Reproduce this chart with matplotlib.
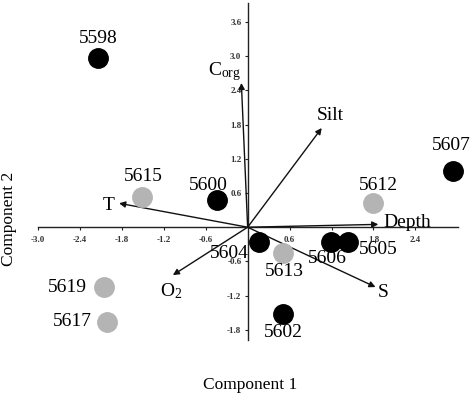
import matplotlib
matplotlib.use("Agg")
import matplotlib.pyplot as plt

plt.rcParams['font.family'] = ['Liberation Serif', 'DejaVu Serif']
plt.rcParams['mathtext.fontset'] = 'custom'
plt.rcParams['mathtext.rm'] = 'Liberation Serif'
plt.rcParams['mathtext.it'] = 'Liberation Serif:italic'

# sample scores (component 1, component 2)
stations = ['5598', '5607', '5615', '5600', '5612', '5604',
            '5613', '5606', '5605', '5602', '5619', '5617']
comp1 = [-2.14, 2.94, -1.51, -0.44, 1.80, 0.16, 0.50, 1.19, 1.43, 0.50, -2.06, -2.01]
comp2 = [2.96, 0.98, 0.53, 0.47, 0.42, -0.26, -0.46, -0.26, -0.26, -1.53, -1.05, -1.67]
groups = ['b', 'b', 'g', 'b', 'g', 'b', 'g', 'b', 'b', 'b', 'g', 'g']

# variable loadings
variables = [r'$\mathrm{C_{org}}$', 'Silt', 'Depth', 'S', 'T', r'$\mathrm{O_2}$']
load1 = [-0.09, 1.06, 1.87, 1.83, -1.84, -1.07]
load2 = [2.53, 1.74, 0.05, -1.05, 0.42, -0.84]

xticks = [-3.0, -2.4, -1.8, -1.2, -0.6, 0.6, 1.2, 1.8, 2.4]
yticks = [-1.8, -1.2, -0.6, 0.6, 1.2, 1.8, 2.4, 3.0, 3.6]

# label offsets in pixels
station_off = [(0, 20), (-2, 26), (1, 20), (-9, 15), (5, 18), (-30, -11),
               (2, -18), (-3, -16), (31, -7), (1, -18), (-36, 0), (-35, 1)]
var_off = [(-17, 11), (9, 13), (5, 2), (8, -5), (-10, -2), (-2, -16)]
var_ha = ['center', 'center', 'left', 'center', 'center', 'center']

colors = {'b': 'black', 'g': '#b4b4b4'}

fig = plt.figure(figsize=(4.74, 3.95), dpi=100)
ax = fig.add_axes([0.0802, 0.139, 0.886, 0.853])
ax.set_xlim(-2.99, 3.01)
ax.set_ylim(-1.98, 3.93)

for s in ['top', 'right']:
    ax.spines[s].set_visible(False)
ax.spines['left'].set_position('zero')
ax.spines['bottom'].set_position('zero')
for s in ['left', 'bottom']:
    ax.spines[s].set_linewidth(1.0)
    ax.spines[s].set_color('#222222')

ax.set_xticks(xticks)
ax.set_yticks(yticks)
ax.set_xticklabels(['%.1f' % v for v in xticks])
ax.set_yticklabels(['%.1f' % v for v in yticks])
ax.tick_params(axis='both', length=2.5, width=0.8, labelsize=6.5, color='#222222')
ax.tick_params(axis='x', pad=3.5)
ax.tick_params(axis='y', pad=2)
for lab in ax.get_xticklabels() + ax.get_yticklabels():
    lab.set_fontweight('bold')
    lab.set_color('#333333')

# loading arrows
for name, x, y, off, ha in zip(variables, load1, load2, var_off, var_ha):
    ax.annotate('', xy=(x, y), xytext=(0, 0),
                arrowprops=dict(arrowstyle='-|>', color='#111111', lw=1.0,
                                mutation_scale=9, shrinkA=0, shrinkB=0))
    ax.annotate(name, xy=(x, y), xytext=off, textcoords='offset pixels',
                ha=ha, va='center', fontsize=14)

# sample points
for st, x, y, g, off in zip(stations, comp1, comp2, groups, station_off):
    ax.plot(x, y, 'o', ms=14, color=colors[g], mec=colors[g], clip_on=False, zorder=3)
    ax.annotate(st, xy=(x, y), xytext=off, textcoords='offset pixels',
                ha='center', va='center', fontsize=14, zorder=4)

fig.text(250 / 474, 1 - 385 / 395, 'Component 1', ha='center', va='center', fontsize=12.5)
fig.text(9 / 474, 1 - 219 / 395, 'Component 2', ha='center', va='center',
         rotation=90, fontsize=12.5)

fig.savefig('out.png', dpi=100)
